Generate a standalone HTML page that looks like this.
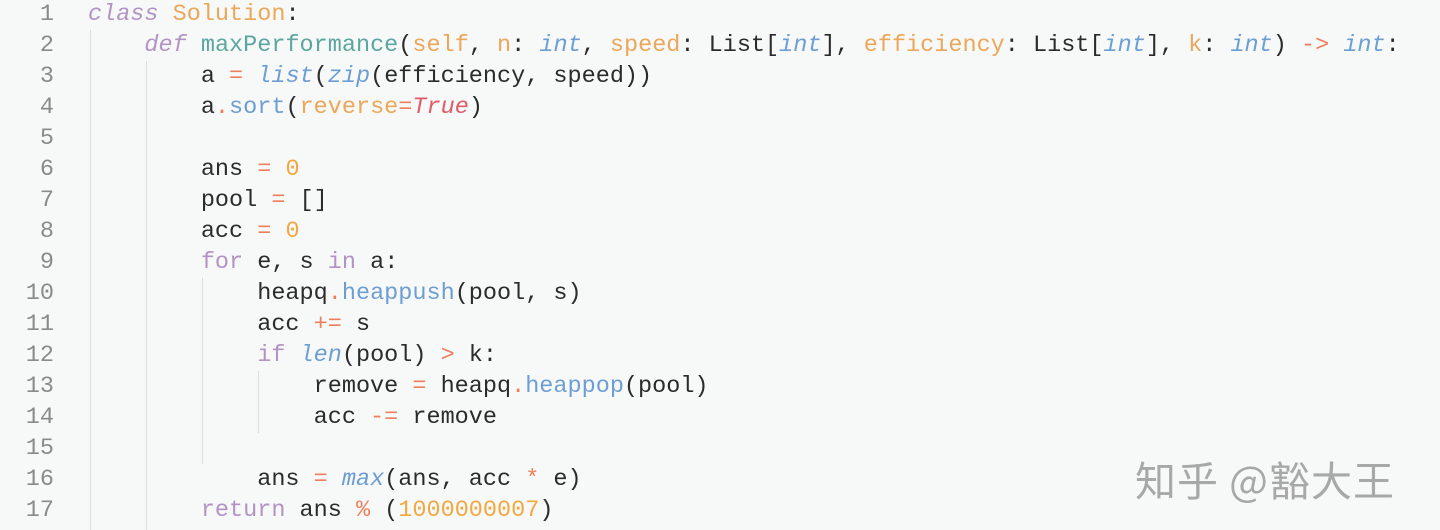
<!DOCTYPE html>
<html><head><meta charset="utf-8"><style>
html,body{margin:0;padding:0;width:1440px;height:530px;overflow:hidden;background:#f7f8f8;}
.wrap{position:relative;width:1440px;height:530px;font-family:"Liberation Mono","DejaVu Sans Mono",monospace;font-size:23.5px;color:#2b2b2b;}
.ln{position:absolute;left:0;width:54px;text-align:right;color:#8a8a8a;}
.code{position:absolute;left:88px;}
.row{height:31px;line-height:31px;white-space:pre;}
.kw{color:#b393c4;}
.i{font-style:italic;}
.cls{color:#eba75a;}
.fn{color:#5ba79f;}
.pa{color:#eba75a;}
.ty{color:#6d9ed3;font-style:italic;}
.bi{color:#6d9ed3;font-style:italic;}
.me{color:#6d9ed3;}
.op{color:#ee7e5c;}
.nu{color:#f2a840;}
.tr{color:#e05a6a;font-style:italic;}
.g{position:absolute;width:1px;background:#dcdcdc;}
.wm{position:absolute;left:1135px;top:448px;font-family:"Noto Sans CJK SC",sans-serif;font-size:41px;color:#a8a8a8;letter-spacing:1px;}
</style></head><body><div class="wrap">
<div class="g" style="left:90px;top:30px;height:500px"></div>
<div class="g" style="left:146px;top:61px;height:469px"></div>
<div class="g" style="left:202px;top:278px;height:186px"></div>
<div class="g" style="left:258px;top:371px;height:62px"></div>
<div class="ln" style="top:-1px"><div class="row">1</div><div class="row">2</div><div class="row">3</div><div class="row">4</div><div class="row">5</div><div class="row">6</div><div class="row">7</div><div class="row">8</div><div class="row">9</div><div class="row">10</div><div class="row">11</div><div class="row">12</div><div class="row">13</div><div class="row">14</div><div class="row">15</div><div class="row">16</div><div class="row">17</div></div>
<div class="code" style="top:-1px">
<div class="row"><span class="kw i">class</span> <span class="cls">Solution</span>:</div>
<div class="row">    <span class="kw i">def</span> <span class="fn">maxPerformance</span>(<span class="pa">self</span>, <span class="pa">n</span>: <span class="ty">int</span>, <span class="pa">speed</span>: List[<span class="ty">int</span>], <span class="pa">efficiency</span>: List[<span class="ty">int</span>], <span class="pa">k</span>: <span class="ty">int</span>) <span class="op">-&gt;</span> <span class="ty">int</span>:</div>
<div class="row">        a <span class="op">=</span> <span class="bi">list</span>(<span class="bi">zip</span>(efficiency, speed))</div>
<div class="row">        a<span class="op">.</span><span class="me">sort</span>(<span class="pa">reverse</span><span class="op">=</span><span class="tr">True</span>)</div>
<div class="row"> </div>
<div class="row">        ans <span class="op">=</span> <span class="nu">0</span></div>
<div class="row">        pool <span class="op">=</span> []</div>
<div class="row">        acc <span class="op">=</span> <span class="nu">0</span></div>
<div class="row">        <span class="kw">for</span> e, s <span class="kw">in</span> a:</div>
<div class="row">            heapq<span class="op">.</span><span class="me">heappush</span>(pool, s)</div>
<div class="row">            acc <span class="op">+=</span> s</div>
<div class="row">            <span class="kw">if</span> <span class="bi">len</span>(pool) <span class="op">&gt;</span> k:</div>
<div class="row">                remove <span class="op">=</span> heapq<span class="op">.</span><span class="me">heappop</span>(pool)</div>
<div class="row">                acc <span class="op">-=</span> remove</div>
<div class="row"> </div>
<div class="row">            ans <span class="op">=</span> <span class="bi">max</span>(ans, acc <span class="op">*</span> e)</div>
<div class="row">        <span class="kw">return</span> ans <span class="op">%</span> (<span class="nu">1000000007</span>)</div>
</div>
<div class="wm">知乎 @豁大王</div>
</div></body></html>
